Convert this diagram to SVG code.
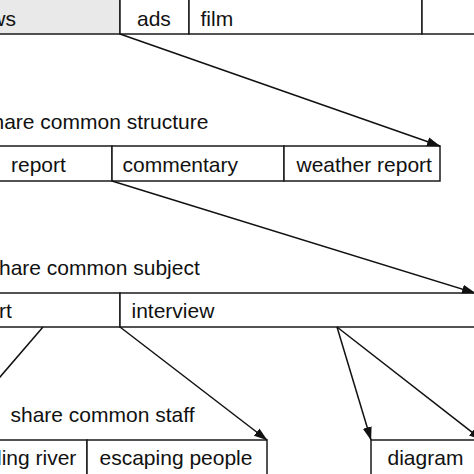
<svg xmlns="http://www.w3.org/2000/svg" width="474" height="474" viewBox="0 0 474 474">
<style>
.cell{fill:#fff;stroke:#1a1a1a;stroke-width:1.5}
.gray{fill:#e9e9e9}
text{font-family:"Liberation Sans",Arial,sans-serif;font-size:21px;fill:#111}
.conn{stroke:#111;stroke-width:1.5;fill:none}
</style>
<defs>
<marker id="ah" markerUnits="userSpaceOnUse" markerWidth="14" markerHeight="10" viewBox="0 0 14 10" refX="13" refY="5" orient="auto">
<path d="M0,0.5 L13.5,5 L0,9.5 Z" fill="#111"/>
</marker>
</defs>
<rect width="474" height="474" fill="#fff"/>
<g id="row1">
<g id="news"><rect class="cell gray" x="-60" y="-20" width="180" height="54"/><text x="-33" y="26">news</text></g>
<g id="ads"><rect class="cell" x="120" y="-20" width="69" height="54"/><text x="137" y="26">ads</text></g>
<g id="film"><rect class="cell" x="189" y="-20" width="233" height="54"/><text x="200.5" y="26">film</text></g>
<g id="other1"><rect class="cell" x="422" y="-20" width="100" height="54"/></g>
</g>
<g id="label-structure"><text x="-18" y="129">share common structure</text></g>
<g id="row2">
<g id="report"><rect class="cell" x="-60" y="146" width="172" height="35"/><text x="11" y="172">report</text></g>
<g id="commentary"><rect class="cell" x="112" y="146" width="172" height="35"/><text x="122.5" y="172">commentary</text></g>
<g id="weather"><rect class="cell" x="284" y="146" width="156" height="35"/><text x="296.5" y="172">weather report</text></g>
</g>
<g id="label-subject"><text x="-11.5" y="275">share common subject</text></g>
<g id="row3">
<g id="report2"><rect class="cell" x="-60" y="293" width="180" height="34"/><text x="-43" y="318">report</text></g>
<g id="interview"><rect class="cell" x="120" y="293" width="400" height="34"/><text x="131.5" y="318">interview</text></g>
</g>
<g id="label-staff"><text x="10.5" y="422">share common staff</text></g>
<g id="row4">
<g id="river"><rect class="cell" x="-60" y="440" width="147" height="60"/><text x="-3" y="465">ling river</text></g>
<g id="escaping"><rect class="cell" x="87" y="440" width="180" height="60"/><text x="99.5" y="465">escaping people</text></g>
<g id="diagram"><rect class="cell" x="371" y="440" width="160" height="60"/><text x="387.5" y="465">diagram</text></g>
</g>
<g id="connectors">
<line class="conn" x1="120" y1="34" x2="440" y2="146" marker-end="url(#ah)"/>
<line class="conn" x1="112" y1="181" x2="475" y2="293" marker-end="url(#ah)"/>
<line class="conn" x1="43" y1="327" x2="-6" y2="384"/>
<line class="conn" x1="120" y1="327" x2="267" y2="440" marker-end="url(#ah)"/>
<line class="conn" x1="337" y1="327" x2="371" y2="440" marker-end="url(#ah)"/>
<line class="conn" x1="337" y1="327" x2="482" y2="440" marker-end="url(#ah)"/>
</g>
</svg>
